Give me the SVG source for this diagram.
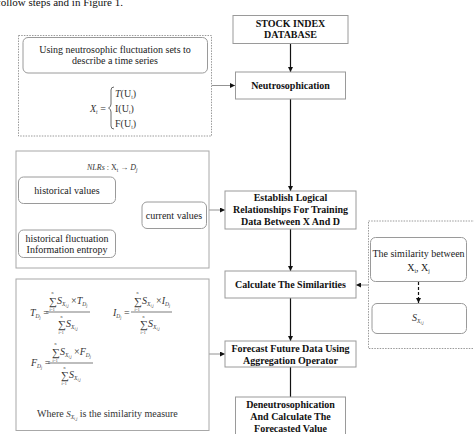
<svg xmlns="http://www.w3.org/2000/svg" width="474" height="434" viewBox="0 0 474 434">
<defs>
<marker id="ah" viewBox="0 0 10 10" refX="10" refY="5" markerWidth="5" markerHeight="5" orient="auto" markerUnits="userSpaceOnUse"><path d="M0,0 L10,5 L0,10 z" fill="#111"/></marker>
<style>
.box{fill:#fff;stroke:#9a9a9a;stroke-width:1}
.rbox{fill:#fff;stroke:#9a9a9a;stroke-width:1}
.dash{fill:none;stroke:#9a9a9a;stroke-width:1;stroke-dasharray:1.5 1.2}
.panel{fill:#fff;stroke:#a8a8a8;stroke-width:1}
.b{font-family:"Liberation Serif",serif;font-weight:bold;font-size:10px;fill:#111;text-anchor:middle}
.t{font-family:"Liberation Serif",serif;font-size:10px;fill:#222;text-anchor:middle}
.m{font-family:"Liberation Serif",serif;font-style:italic;font-size:10px;fill:#333}
.r{font-family:"Liberation Serif",serif;font-style:normal;font-size:10px;fill:#333}
.s{font-size:5.5px}
.ss{font-size:4px}
.sig{font-family:"Liberation Serif",serif;font-size:11px;fill:#333}
.lim{font-family:"Liberation Serif",serif;font-size:4px;fill:#333}
.line{stroke:#111;stroke-width:1.2;fill:none}
.thin{stroke:#777;stroke-width:0.8;fill:none}
.frac{stroke:#444;stroke-width:0.7}
</style>
</defs>
<text x="-3" y="6" font-family="Liberation Serif,serif" font-size="11" fill="#111">follow steps and in Figure 1.</text>

<g id="connectors">
<line class="line" x1="290.5" y1="43" x2="290.5" y2="72" marker-end="url(#ah)"/>
<line class="line" x1="290.5" y1="99" x2="290.5" y2="191" marker-end="url(#ah)"/>
<line class="line" x1="290.5" y1="229" x2="290.5" y2="271" marker-end="url(#ah)"/>
<line class="line" x1="290.5" y1="298" x2="290.5" y2="341" marker-end="url(#ah)"/>
<line class="line" x1="290.5" y1="367" x2="290.5" y2="397"/>
<line class="thin" x1="212" y1="85.5" x2="235" y2="85.5" marker-end="url(#ah)"/>
<line class="thin" x1="209" y1="210" x2="225" y2="210" marker-end="url(#ah)"/>
<line class="thin" x1="209" y1="354" x2="225" y2="354" marker-end="url(#ah)"/>
<line class="thin" x1="368" y1="285" x2="356" y2="285" marker-end="url(#ah)"/>
<polyline class="line" points="115,190 128.5,190 128.5,244 115,244"/>
<line class="line" x1="128.5" y1="215" x2="142" y2="215" marker-end="url(#ah)"/>
<line class="line" x1="418.5" y1="282" x2="418.5" y2="303" stroke-dasharray="3 2" marker-end="url(#ah)"/>
</g>

<g id="stock-index-database">
<rect class="box" x="233" y="15.5" width="115" height="28"/>
<text class="b" x="290.5" y="27">STOCK INDEX</text>
<text class="b" x="290.5" y="38">DATABASE</text>
</g>

<g id="neutrosophication">
<rect class="box" x="235.5" y="72" width="110" height="27"/>
<text class="b" x="290.5" y="89">Neutrosophication</text>
</g>

<g id="establish">
<rect class="box" x="225" y="191" width="131" height="38"/>
<text class="b" x="290.5" y="201">Establish Logical</text>
<text class="b" x="290.5" y="213">Relationships For Training</text>
<text class="b" x="290.5" y="225">Data Between X And D</text>
</g>

<g id="calculate">
<rect class="box" x="225" y="271" width="131" height="27"/>
<text class="b" x="290.5" y="288">Calculate The Similarities</text>
</g>

<g id="forecast">
<rect class="box" x="225" y="341" width="131" height="26"/>
<text class="b" x="290.5" y="352">Forecast Future Data Using</text>
<text class="b" x="290.5" y="364">Aggregation Operator</text>
</g>

<g id="deneutrosophication">
<rect class="box" x="235.5" y="397" width="110" height="45"/>
<text class="b" x="290.5" y="408">Deneutrosophication</text>
<text class="b" x="290.5" y="420">And Calculate The</text>
<text class="b" x="290.5" y="432">Forecasted Value</text>
</g>

<g id="neutro-panel">
<rect class="dash" x="18.5" y="35.5" width="193" height="100.5"/>
<rect class="rbox" x="23" y="37.5" width="184.5" height="35.5" rx="5"/>
<text class="t" x="115" y="53">Using neutrosophic fluctuation sets  to</text>
<text class="t" x="115" y="64">describe a time series</text>
<text class="m" x="90" y="112">X<tspan class="s" dy="1.5">t</tspan><tspan class="r" dy="-1.5"> =</tspan></text>
<path d="M114,87 q-3,0 -3,3 v14 q0,3 -2.5,4 q2.5,1 2.5,4 v14 q0,3 3,3" fill="none" stroke="#444" stroke-width="0.8"/>
<text class="r" x="115" y="97"><tspan class="m">T</tspan>(U<tspan class="s" dy="1.5">t</tspan><tspan dy="-1.5">)</tspan></text>
<text class="r" x="115" y="112">I(U<tspan class="s" dy="1.5">t</tspan><tspan dy="-1.5">)</tspan></text>
<text class="r" x="115" y="127">F(U<tspan class="s" dy="1.5">t</tspan><tspan dy="-1.5">)</tspan></text>
</g>

<g id="nlr-panel">
<rect class="panel" x="16" y="151" width="193" height="117"/>
<text class="m" x="87" y="170" style="font-size:8px">NLRs<tspan class="r" style="font-size:8px"> : X</tspan><tspan class="r s" dy="1.5">t</tspan><tspan class="r" style="font-size:8px" dy="-1.5"> → </tspan>D<tspan class="s" dy="1.5">j</tspan></text>
</g>

<g id="historical-values">
<rect class="rbox" x="18.5" y="177" width="97" height="26.5" rx="5"/>
<text class="t" x="67" y="193.5">historical values</text>
</g>

<g id="historical-fluctuation">
<rect class="rbox" x="18.5" y="230" width="97" height="27.5" rx="5"/>
<text class="t" x="67" y="241.5">historical fluctuation</text>
<text class="t" x="67" y="253">Information entropy</text>
</g>

<g id="current-values">
<rect class="rbox" x="142" y="202" width="64.5" height="26.5" rx="5"/>
<text class="t" x="174" y="218.5">current values</text>
</g>

<g id="similarity-panel">
<rect class="dash" x="368.5" y="221" width="110" height="127.5"/>
</g>

<g id="similarity-between">
<rect class="rbox" x="370.5" y="237.5" width="96" height="44" rx="5"/>
<text class="t" x="418.5" y="257">The similarity between</text>
<text class="t" x="418.5" y="271">X<tspan class="s" dy="1.5">i</tspan><tspan dy="-1.5">, X</tspan><tspan class="s" dy="1.5">j</tspan></text>
</g>

<g id="similarity-s">
<rect class="rbox" x="372" y="303.5" width="94.5" height="30" rx="5"/>
<text class="m" x="412" y="321">S<tspan class="s" dy="2">X</tspan><tspan class="ss" dy="1">i,j</tspan></text>
</g>

<g id="formula-panel">
<rect class="panel" x="16" y="279" width="193" height="151.5"/>
<!-- T -->
<text class="m" x="30" y="316">T<tspan class="s" dy="1.5">D</tspan><tspan class="ss" dy="1">j</tspan><tspan class="r" dy="-2.5"> =</tspan></text>
<text class="sig" x="49" y="305">∑</text>
<text class="lim" x="51.5" y="294">n</text>
<text class="lim" x="49.5" y="310.5">i=1</text>
<text class="m" x="57" y="304">S<tspan class="s" dy="2">X</tspan><tspan class="ss" dy="1">i,j</tspan><tspan class="r" dy="-3"> ×</tspan>T<tspan class="s" dy="1.5">D</tspan><tspan class="ss" dy="1">j</tspan></text>
<line class="frac" x1="46" y1="312" x2="90" y2="312"/>
<text class="sig" x="58" y="328">∑</text>
<text class="lim" x="60.5" y="317.5">n</text>
<text class="lim" x="58.5" y="333.5">i=1</text>
<text class="m" x="66" y="327">S<tspan class="s" dy="2">X</tspan><tspan class="ss" dy="1">i,j</tspan></text>
<!-- I -->
<text class="m" x="113" y="316">I<tspan class="s" dy="1.5">D</tspan><tspan class="ss" dy="1">j</tspan><tspan class="r" dy="-2.5"> =</tspan></text>
<text class="sig" x="134" y="305">∑</text>
<text class="lim" x="136.5" y="294">n</text>
<text class="lim" x="134.5" y="310.5">i=1</text>
<text class="m" x="142" y="304">S<tspan class="s" dy="2">X</tspan><tspan class="ss" dy="1">i,j</tspan><tspan class="r" dy="-3"> ×</tspan>I<tspan class="s" dy="1.5">D</tspan><tspan class="ss" dy="1">j</tspan></text>
<line class="frac" x1="131" y1="312" x2="172" y2="312"/>
<text class="sig" x="140" y="328">∑</text>
<text class="lim" x="142.5" y="317.5">n</text>
<text class="lim" x="140.5" y="333.5">i=1</text>
<text class="m" x="148" y="327">S<tspan class="s" dy="2">X</tspan><tspan class="ss" dy="1">i,j</tspan></text>
<!-- F -->
<text class="m" x="31" y="366">F<tspan class="s" dy="1.5">D</tspan><tspan class="ss" dy="1">j</tspan><tspan class="r" dy="-2.5"> =</tspan></text>
<text class="sig" x="52" y="356">∑</text>
<text class="lim" x="54.5" y="345">n</text>
<text class="lim" x="52.5" y="361.5">i=1</text>
<text class="m" x="60" y="355">S<tspan class="s" dy="2">X</tspan><tspan class="ss" dy="1">i,j</tspan><tspan class="r" dy="-3"> ×</tspan>F<tspan class="s" dy="1.5">D</tspan><tspan class="ss" dy="1">j</tspan></text>
<line class="frac" x1="48" y1="363" x2="93" y2="363"/>
<text class="sig" x="61" y="379">∑</text>
<text class="lim" x="63.5" y="368.5">n</text>
<text class="lim" x="61.5" y="384.5">i=1</text>
<text class="m" x="69" y="378">S<tspan class="s" dy="2">X</tspan><tspan class="ss" dy="1">i,j</tspan></text>
<!-- where -->
<text class="r" x="37" y="417">Where  <tspan class="m" style="font-size:9px">S</tspan><tspan class="m s" dy="2">X</tspan><tspan class="m ss" dy="1">i,j</tspan><tspan dy="-3">  is the similarity measure</tspan></text>
</g>
</svg>
